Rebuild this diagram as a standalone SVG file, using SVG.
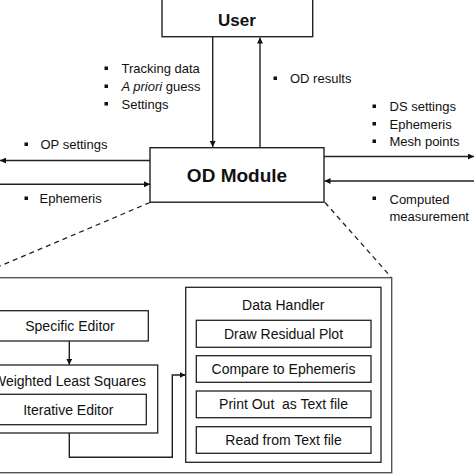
<svg xmlns="http://www.w3.org/2000/svg" width="474" height="474" viewBox="0 0 474 474">
<style>
.box{fill:#fff;stroke:#222;stroke-width:1.4}
.in{fill:#fff;stroke:#222;stroke-width:1.3}
.t{font-family:"Liberation Sans",Arial,sans-serif;fill:#111}
.b{font-size:13px}
.n{font-size:14px;text-anchor:middle}
.h{font-weight:bold;text-anchor:middle}
.ln{fill:none;stroke:#222;stroke-width:1.4}
.dash{fill:none;stroke:#222;stroke-width:1.3;stroke-dasharray:5,4}
.sq{fill:#111}
</style>
<defs>
<marker id="ah" viewBox="0 0 10 10" refX="10" refY="5" markerWidth="6" markerHeight="6" markerUnits="userSpaceOnUse" orient="auto">
<path d="M0,0 L10,5 L0,10 z" fill="#111"/>
</marker>
</defs>
<rect width="474" height="474" fill="#fff"/>

<g id="user">
<rect class="box" x="162" y="-2" width="150.7" height="38.7"/>
<text class="t h" x="237" y="26" font-size="17">User</text>
</g>

<g id="user-to-od-labels">
<rect class="sq" x="104.5" y="66.5" width="3.5" height="3.5"/>
<rect class="sq" x="104.5" y="84.5" width="3.5" height="3.5"/>
<rect class="sq" x="104.5" y="102" width="3.5" height="3.5"/>
<text class="t b" x="121.5" y="73">Tracking data</text>
<text class="t b" x="121.5" y="91"><tspan font-style="italic">A priori</tspan> guess</text>
<text class="t b" x="121.5" y="108.5">Settings</text>
</g>

<g id="od-results-label">
<rect class="sq" x="273.5" y="76.5" width="3.5" height="3.5"/>
<text class="t b" x="290" y="83">OD results</text>
</g>

<g id="od-module">
<rect class="box" x="150" y="147.7" width="174" height="54.5"/>
<text class="t h" x="237" y="181.7" font-size="19">OD Module</text>
</g>

<g id="op-label">
<rect class="sq" x="24.5" y="142.5" width="3.5" height="3.5"/>
<text class="t b" x="40.5" y="149">OP settings</text>
</g>
<g id="eph-left-label">
<rect class="sq" x="24.5" y="196.5" width="3.5" height="3.5"/>
<text class="t b" x="39.5" y="203">Ephemeris</text>
</g>
<g id="ds-labels">
<rect class="sq" x="372.5" y="104.5" width="3.5" height="3.5"/>
<rect class="sq" x="372.5" y="122" width="3.5" height="3.5"/>
<rect class="sq" x="372.5" y="139.5" width="3.5" height="3.5"/>
<text class="t b" x="389.5" y="111">DS settings</text>
<text class="t b" x="389.5" y="128.5">Ephemeris</text>
<text class="t b" x="389.5" y="146">Mesh points</text>
</g>
<g id="computed-label">
<rect class="sq" x="372.5" y="196.5" width="3.5" height="3.5"/>
<text class="t b" x="389.5" y="203.5">Computed</text>
<text class="t b" x="389.5" y="221">measurement</text>
</g>

<g id="od-detail">
<rect class="box" x="-10" y="277.7" width="401.7" height="195" style="stroke:#555"/>
</g>

<g id="specific-editor">
<rect class="in" x="-10" y="310.7" width="158.3" height="30.3"/>
<text class="t n" x="70" y="331">Specific Editor</text>
</g>

<g id="wls">
<rect class="in" x="-20" y="365" width="177.7" height="68"/>
<text class="t" x="146" y="386" font-size="14" text-anchor="end">Weighted Least Squares</text>
</g>
<g id="iterative-editor">
<rect class="in" x="-10" y="394.3" width="156.3" height="30.4"/>
<text class="t n" x="68.3" y="415">Iterative Editor</text>
</g>

<g id="data-handler">
<rect class="in" x="185.7" y="287.3" width="195.3" height="175"/>
<text class="t n" x="283.3" y="310">Data Handler</text>
</g>
<g id="draw-residual">
<rect class="in" x="196.3" y="320.3" width="174.7" height="27"/>
<text class="t n" x="283.5" y="339.3">Draw Residual Plot</text>
</g>
<g id="compare-eph">
<rect class="in" x="196.3" y="355.7" width="174.7" height="26.6"/>
<text class="t n" x="283.5" y="374">Compare to Ephemeris</text>
</g>
<g id="print-out">
<rect class="in" x="196.3" y="391" width="174.7" height="26.7"/>
<text class="t n" x="283.5" y="409.3" xml:space="preserve">Print Out  as Text file</text>
</g>
<g id="read-from">
<rect class="in" x="196.3" y="426.7" width="174.7" height="26.6"/>
<text class="t n" x="283.5" y="445">Read from Text file</text>
</g>

<g id="connectors">
<line class="ln" x1="212.7" y1="37" x2="212.7" y2="147" marker-end="url(#ah)"/>
<line class="ln" x1="260" y1="147.7" x2="260" y2="37.5" marker-end="url(#ah)"/>
<line class="ln" x1="150" y1="160.5" x2="0" y2="160.5" marker-end="url(#ah)"/>
<line class="ln" x1="0" y1="184.3" x2="150" y2="184.3" marker-end="url(#ah)"/>
<line class="ln" x1="324" y1="156.5" x2="474" y2="156.5" marker-end="url(#ah)"/>
<line class="ln" x1="474" y1="181" x2="324.5" y2="181" marker-end="url(#ah)"/>
<line class="dash" x1="150" y1="202.5" x2="0" y2="266"/>
<line class="dash" x1="325" y1="202.5" x2="391" y2="277"/>
<line class="ln" x1="69.3" y1="341" x2="69.3" y2="364.7" marker-end="url(#ah)"/>
<polyline class="ln" points="69.3,433 69.3,457.3 172.3,457.3 172.3,375 185.5,375" marker-end="url(#ah)"/>
</g>
</svg>
